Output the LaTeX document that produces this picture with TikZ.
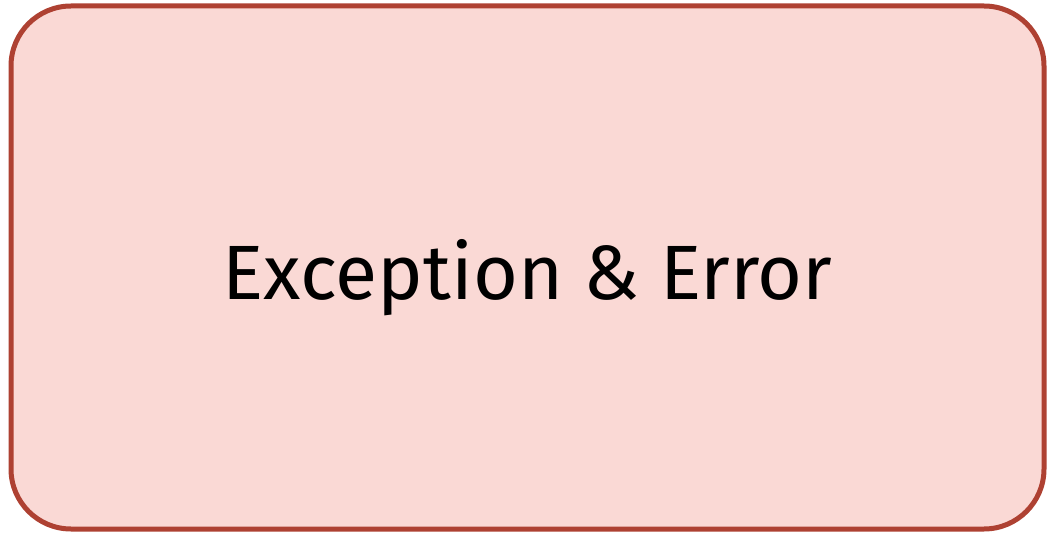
\documentclass[tikz,border=0pt]{standalone}
\usepackage{fontspec}
\setmainfont{Fira Sans}
\definecolor{errfill}{HTML}{FAD9D5}
\definecolor{errline}{HTML}{AE4132}
\begin{document}
\begin{tikzpicture}[x=1pt,y=1pt,
    errbox/.style={draw=errline,fill=errfill,line width=5pt,rounded corners=60pt,
      minimum width=1033pt,minimum height=523pt,inner sep=0pt,
      font=\fontsize{77}{84}\selectfont}]
  \useasboundingbox (0,0) rectangle (1058,536);
  \node[errbox] (err) at (527.5,268.5) {\raisebox{-32pt}[0pt][0pt]{Exception \& Error}};
\end{tikzpicture}
\end{document}
